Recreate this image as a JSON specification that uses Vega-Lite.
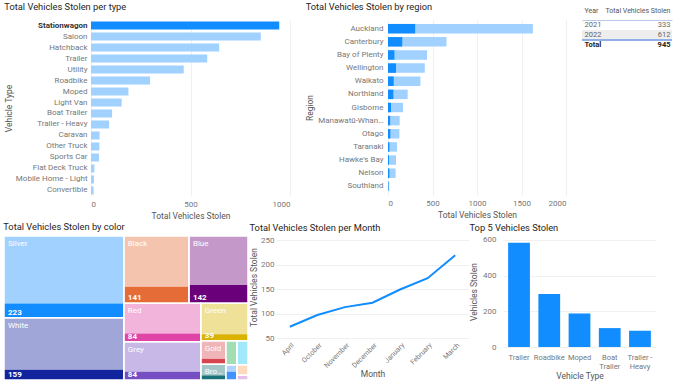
{
  "$schema": "https://vega.github.io/schema/vega-lite/v6.json",
  "background": "white",
  "padding": {"left": 3, "top": 2, "right": 0, "bottom": 0},
  "autosize": {"type": "pad"},
  "config": {
    "view": {"stroke": null},
    "font": "Roboto",
    "axis": {"labelColor": "#777777", "labelFontSize": 8, "titleColor": "#555555", "titleFontSize": 8.5, "titleFontWeight": "normal", "domain": false, "ticks": false, "gridColor": "#f0f0f0", "grid": false},
    "title": {"fontSize": 9.3, "fontWeight": "normal", "color": "#252423", "anchor": "start", "frame": "bounds", "offset": 8}
  },
  "datasets": {
    "types": [
      {"type": "Stationwagon", "count": 946},
      {"type": "Saloon", "count": 853},
      {"type": "Hatchback", "count": 644},
      {"type": "Trailer", "count": 584},
      {"type": "Utility", "count": 466},
      {"type": "Roadbike", "count": 297},
      {"type": "Moped", "count": 188},
      {"type": "Light Van", "count": 154},
      {"type": "Boat Trailer", "count": 106},
      {"type": "Trailer - Heavy", "count": 91},
      {"type": "Caravan", "count": 43},
      {"type": "Other Truck", "count": 42},
      {"type": "Sports Car", "count": 40},
      {"type": "Flat Deck Truck", "count": 17},
      {"type": "Mobile Home - Light", "count": 15},
      {"type": "Convertible", "count": 13}
    ],
    "regions": [
      {"region": "Auckland", "total": 1628, "stationwagon": 305},
      {"region": "Canterbury", "total": 657, "stationwagon": 160},
      {"region": "Bay of Plenty", "total": 439, "stationwagon": 72},
      {"region": "Wellington", "total": 413, "stationwagon": 90},
      {"region": "Waikato", "total": 364, "stationwagon": 64},
      {"region": "Northland", "total": 221, "stationwagon": 60},
      {"region": "Gisborne", "total": 169, "stationwagon": 34},
      {"region": "Manawatū-Whanganui", "total": 131, "stationwagon": 24},
      {"region": "Otago", "total": 128, "stationwagon": 26},
      {"region": "Taranaki", "total": 101, "stationwagon": 15},
      {"region": "Hawke's Bay", "total": 90, "stationwagon": 11},
      {"region": "Nelson", "total": 86, "stationwagon": 15},
      {"region": "Southland", "total": 15, "stationwagon": 5}
    ],
    "years": [
      {"Year": "2021", "Total": 333},
      {"Year": "2022", "Total": 612},
      {"Year": "Total", "Total": 945}
    ],
    "colors": [
      {"color": "Silver", "highlight": "Other", "count": 1054, "g1": 1, "g2": 1, "g3": 1, "g4": 1, "g5": 1},
      {"color": "Silver", "highlight": "Stationwagon", "count": 223, "g1": 1, "g2": 1, "g3": 1, "g4": 1, "g5": 1},
      {"color": "White", "highlight": "Other", "count": 816, "g1": 1, "g2": 1, "g3": 1, "g4": 1, "g5": 1},
      {"color": "White", "highlight": "Stationwagon", "count": 159, "g1": 1, "g2": 1, "g3": 1, "g4": 1, "g5": 1},
      {"color": "Black", "highlight": "Other", "count": 431, "g1": 2, "g2": 1, "g3": 1, "g4": 1, "g5": 1},
      {"color": "Black", "highlight": "Stationwagon", "count": 141, "g1": 2, "g2": 1, "g3": 1, "g4": 1, "g5": 1},
      {"color": "Blue", "highlight": "Other", "count": 377, "g1": 2, "g2": 1, "g3": 2, "g4": 1, "g5": 1},
      {"color": "Blue", "highlight": "Stationwagon", "count": 142, "g1": 2, "g2": 1, "g3": 2, "g4": 1, "g5": 1},
      {"color": "Red", "highlight": "Other", "count": 302, "g1": 2, "g2": 2, "g3": 1, "g4": 1, "g5": 1},
      {"color": "Red", "highlight": "Stationwagon", "count": 84, "g1": 2, "g2": 2, "g3": 1, "g4": 1, "g5": 1},
      {"color": "Grey", "highlight": "Other", "count": 300, "g1": 2, "g2": 2, "g3": 1, "g4": 1, "g5": 1},
      {"color": "Grey", "highlight": "Stationwagon", "count": 84, "g1": 2, "g2": 2, "g3": 1, "g4": 1, "g5": 1},
      {"color": "Green", "highlight": "Other", "count": 191, "g1": 2, "g2": 2, "g3": 2, "g4": 1, "g5": 1},
      {"color": "Green", "highlight": "Stationwagon", "count": 39, "g1": 2, "g2": 2, "g3": 2, "g4": 1, "g5": 1},
      {"color": "Gold", "highlight": "Other", "count": 59, "g1": 2, "g2": 2, "g3": 2, "g4": 2, "g5": 1},
      {"color": "Gold", "highlight": "Stationwagon", "count": 18, "g1": 2, "g2": 2, "g3": 2, "g4": 2, "g5": 1},
      {"color": "Brown", "highlight": "Other", "count": 36, "g1": 2, "g2": 2, "g3": 2, "g4": 2, "g5": 1},
      {"color": "Brown", "highlight": "Stationwagon", "count": 15, "g1": 2, "g2": 2, "g3": 2, "g4": 2, "g5": 1},
      {"color": "Yellow", "highlight": "Other", "count": 35, "g1": 2, "g2": 2, "g3": 2, "g4": 2, "g5": 2},
      {"color": "Purple", "highlight": "Other", "count": 10, "g1": 2, "g2": 2, "g3": 2, "g4": 2, "g5": 2},
      {"color": "Purple", "highlight": "Stationwagon", "count": 12, "g1": 2, "g2": 2, "g3": 2, "g4": 2, "g5": 2},
      {"color": "Orange", "highlight": "Other", "count": 35, "g1": 2, "g2": 2, "g3": 2, "g4": 2, "g5": 3},
      {"color": "Cream", "highlight": "Other", "count": 15, "g1": 2, "g2": 2, "g3": 2, "g4": 2, "g5": 3},
      {"color": "Pink", "highlight": "Other", "count": 7, "g1": 2, "g2": 2, "g3": 2, "g4": 2, "g5": 3}
    ],
    "months": [
      {"month": "April", "count": 73},
      {"month": "October", "count": 97},
      {"month": "November", "count": 113},
      {"month": "December", "count": 122},
      {"month": "January", "count": 149},
      {"month": "February", "count": 172},
      {"month": "March", "count": 219}
    ]
  },
  "concat": [
    {
      "hconcat": [
        {
          "hconcat": [
            {
              "width": 1,
              "height": 1,
              "data": {"values": []},
              "mark": {"type": "point", "opacity": 0},
              "encoding": {}
            },
            {
              "hconcat": [
                {
                  "title": {"text": "Total Vehicles Stolen per type"},
                  "width": 199,
                  "height": 176,
                  "data": {"name": "types"},
                  "mark": {"type": "bar"},
                  "encoding": {
                    "y": {"field": "type", "type": "nominal", "sort": "-x", "title": "Vehicle Type",
                      "scale": {"paddingInner": 0.27, "paddingOuter": 0.14},
                      "axis": {"labelPadding": 4, "titlePadding": 2, "labelLimit": 120,
                        "labelFontWeight": {"condition": {"test": "datum.value === 'Stationwagon'", "value": "bold"}, "value": "normal"},
                        "labelColor": {"condition": {"test": "datum.value === 'Stationwagon'", "value": "#333333"}, "value": "#777777"}}},
                    "x": {"field": "count", "type": "quantitative", "title": "Total Vehicles Stolen",
                      "scale": {"domain": [0, 1000]},
                      "axis": {"values": [0, 500, 1000], "format": "d", "grid": true, "labelPadding": 4, "titlePadding": 3}},
                    "color": {"condition": {"test": "datum.type === 'Stationwagon'", "value": "#118DFF"}, "value": "#A0D1FF"}
                  }
                },
                {
                  "title": {"text": "Total Vehicles Stolen by region"},
                  "width": 178,
                  "height": 175,
                  "data": {"name": "regions"},
                  "encoding": {
                    "y": {"field": "region", "type": "nominal", "sort": {"field": "total", "order": "descending"}, "title": "Region",
                      "scale": {"paddingInner": 0.28, "paddingOuter": 0.3},
                      "axis": {"labelPadding": 5, "titlePadding": 3, "labelLimit": 68}}
                  },
                  "layer": [
                    {
                      "mark": {"type": "bar", "color": "#A0D1FF"},
                      "encoding": {
                        "x": {"field": "total", "type": "quantitative", "title": "Total Vehicles Stolen",
                          "scale": {"domain": [0, 2000]},
                          "axis": {"values": [0, 500, 1000, 1500, 2000], "format": "d", "grid": true, "labelPadding": 4, "titlePadding": 3}}
                      }
                    },
                    {
                      "mark": {"type": "bar", "color": "#118DFF"},
                      "encoding": {
                        "x": {"field": "stationwagon", "type": "quantitative"}
                      }
                    }
                  ]
                }
              ],
              "spacing": 15
            }
          ],
          "spacing": -1
        },
        {
          "width": 90,
          "height": 30,
          "data": {"name": "years"},
          "transform": [{"fold": ["Year", "Total"], "as": ["column", "val"]}],
          "encoding": {
            "x": {"field": "column", "type": "nominal", "scale": {"domain": ["Year", "Total"], "paddingInner": 0, "paddingOuter": 0},
              "axis": {"orient": "top", "title": null, "labelAngle": 0, "labelPadding": 7, "labelColor": "#555555", "labelFontSize": 7,
                "labelExpr": "datum.label == 'Total' ? 'Total Vehicles Stolen' : datum.label",
                "labelAlign": {"condition": {"test": "datum.value == 'Year'", "value": "left"}, "value": "right"},
                "labelOffset": {"condition": {"test": "datum.value == 'Year'", "value": -20}, "value": 21},
                "domain": true, "domainColor": "#b8c8e8", "domainWidth": 1}},
            "y": {"field": "Year", "type": "nominal", "scale": {"domain": ["2021", "2022", "Total"], "paddingInner": 0, "paddingOuter": 0}, "axis": null}
          },
          "layer": [
            {
              "transform": [{"filter": "datum.Year == '2022'"}],
              "mark": {"type": "rect", "color": "#eeeeee"}
            },
            {
              "mark": {"type": "rule", "color": "#8fb0e6", "strokeWidth": 1},
              "encoding": {"x": null, "y": {"datum": "Total", "type": "nominal", "bandPosition": 0}}
            },
            {
              "transform": [{"filter": "datum.column == 'Year' && datum.Year != 'Total'"}],
              "mark": {"type": "text", "align": "left", "dx": -20, "fontSize": 7.5, "color": "#666666"},
              "encoding": {"text": {"field": "val"}}
            },
            {
              "transform": [{"filter": "datum.column == 'Total' && datum.Year != 'Total'"}],
              "mark": {"type": "text", "align": "right", "dx": 21, "fontSize": 7.5, "color": "#666666"},
              "encoding": {"text": {"field": "val"}}
            },
            {
              "transform": [{"filter": "datum.column == 'Year' && datum.Year == 'Total'"}],
              "mark": {"type": "text", "align": "left", "dx": -20, "fontSize": 7.5, "fontWeight": "bold", "color": "#252423"},
              "encoding": {"text": {"field": "val"}}
            },
            {
              "transform": [{"filter": "datum.column == 'Total' && datum.Year == 'Total'"}],
              "mark": {"type": "text", "align": "right", "dx": 21, "fontSize": 7.5, "fontWeight": "bold", "color": "#252423"},
              "encoding": {"text": {"field": "val"}}
            }
          ]
        }
      ],
      "spacing": 15
    },
    {
      "hconcat": [
        {
          "title": {"text": "Total Vehicles Stolen by color", "offset": 3},
          "width": 244,
          "height": 144,
          "data": {"name": "colors"},
          "transform": [
            {"joinaggregate": [{"op": "sum", "field": "count", "as": "T"}]},
            {"joinaggregate": [{"op": "sum", "field": "count", "as": "S1"}], "groupby": ["g1"]},
            {"joinaggregate": [{"op": "sum", "field": "count", "as": "S2"}], "groupby": ["g1", "g2"]},
            {"joinaggregate": [{"op": "sum", "field": "count", "as": "S3"}], "groupby": ["g1", "g2", "g3"]},
            {"joinaggregate": [{"op": "sum", "field": "count", "as": "S4"}], "groupby": ["g1", "g2", "g3", "g4"]},
            {"joinaggregate": [{"op": "sum", "field": "count", "as": "S5"}], "groupby": ["g1", "g2", "g3", "g4", "g5"]},
            {"joinaggregate": [{"op": "sum", "field": "count", "as": "tileSum"}], "groupby": ["color"]},
            {"window": [{"op": "sum", "field": "count", "as": "E1"}], "sort": [{"field": "g1"}], "frame": [null, 0], "ignorePeers": false},
            {"window": [{"op": "sum", "field": "count", "as": "E2"}], "groupby": ["g1"], "sort": [{"field": "g2"}], "frame": [null, 0], "ignorePeers": false},
            {"window": [{"op": "sum", "field": "count", "as": "E3"}], "groupby": ["g1", "g2"], "sort": [{"field": "g3"}], "frame": [null, 0], "ignorePeers": false},
            {"window": [{"op": "sum", "field": "count", "as": "E4"}], "groupby": ["g1", "g2", "g3"], "sort": [{"field": "g4"}], "frame": [null, 0], "ignorePeers": false},
            {"window": [{"op": "sum", "field": "count", "as": "E5"}], "groupby": ["g1", "g2", "g3", "g4"], "sort": [{"field": "g5"}], "frame": [null, 0], "ignorePeers": false},
            {"window": [{"op": "sum", "field": "count", "as": "E6"}], "groupby": ["g1", "g2", "g3", "g4", "g5"], "sort": [{"field": "tileSum", "order": "descending"}, {"field": "highlight", "order": "ascending"}], "frame": [null, 0], "ignorePeers": true},
            {"calculate": "(datum.E1 - datum.S1) / datum.T", "as": "xa1"},
            {"calculate": "datum.E1 / datum.T", "as": "xb1"},
            {"calculate": "(datum.E2 - datum.S2) / datum.S1", "as": "ya2"},
            {"calculate": "datum.E2 / datum.S1", "as": "yb2"},
            {"calculate": "datum.xa1 + (datum.xb1 - datum.xa1) * (datum.E3 - datum.S3) / datum.S2", "as": "xa3"},
            {"calculate": "datum.xa1 + (datum.xb1 - datum.xa1) * datum.E3 / datum.S2", "as": "xb3"},
            {"calculate": "datum.ya2 + (datum.yb2 - datum.ya2) * (datum.E4 - datum.S4) / datum.S3", "as": "ya4"},
            {"calculate": "datum.ya2 + (datum.yb2 - datum.ya2) * datum.E4 / datum.S3", "as": "yb4"},
            {"calculate": "datum.xa3 + (datum.xb3 - datum.xa3) * (datum.E5 - datum.S5) / datum.S4", "as": "xa5"},
            {"calculate": "datum.xa3 + (datum.xb3 - datum.xa3) * datum.E5 / datum.S4", "as": "xb5"},
            {"calculate": "datum.ya4 + (datum.yb4 - datum.ya4) * (datum.E6 - datum.count) / datum.S5", "as": "ya6"},
            {"calculate": "datum.ya4 + (datum.yb4 - datum.ya4) * datum.E6 / datum.S5", "as": "yb6"}
          ],
          "layer": [
            {
              "mark": {"type": "rect"},
              "encoding": {
                "x": {"field": "xa5", "type": "quantitative", "scale": {"domain": [0, 1], "nice": false, "zero": false}, "axis": null},
                "x2": {"field": "xb5"},
                "y": {"field": "ya6", "type": "quantitative", "scale": {"domain": [0, 1], "nice": false, "zero": false, "reverse": true}, "axis": null},
                "y2": {"field": "yb6"},
                "color": {"field": "color", "type": "nominal", "legend": null,
                  "scale": {"domain": ["Silver", "White", "Black", "Blue", "Red", "Grey", "Green", "Gold", "Brown", "Yellow", "Orange", "Purple", "Cream", "Pink"],
                    "range": ["#118DFF", "#12239E", "#E66C37", "#6B007B", "#E044A7", "#744EC2", "#D9B300", "#D64550", "#197278", "#1AAB40", "#15C6F4", "#4092FF", "#FFA058", "#BE5DC9"]}},
                "fillOpacity": {"condition": {"test": "datum.highlight == 'Other'", "value": 0.4}, "value": 1}
              }
            },
            {
              "transform": [{"aggregate": [{"op": "min", "field": "ya6", "as": "top"}, {"op": "max", "field": "yb6", "as": "bottom"}], "groupby": ["color", "xa5", "xb5"]}],
              "mark": {"type": "rect", "fill": null, "stroke": "white", "strokeWidth": 1.5},
              "encoding": {
                "x": {"field": "xa5", "type": "quantitative", "scale": {"domain": [0, 1], "nice": false, "zero": false}, "axis": null},
                "x2": {"field": "xb5"},
                "y": {"field": "top", "type": "quantitative", "scale": {"domain": [0, 1], "nice": false, "zero": false, "reverse": true}, "axis": null},
                "y2": {"field": "bottom"}
              }
            },
            {
              "transform": [{"filter": "datum.highlight == 'Other' && datum.tileSum >= 100"}],
              "mark": {"type": "text", "align": "left", "baseline": "top", "dx": 4, "dy": 4, "fontSize": 8, "color": "white"},
              "encoding": {
                "x": {"field": "xa5", "type": "quantitative", "scale": {"domain": [0, 1], "nice": false, "zero": false}, "axis": null},
                "y": {"field": "ya6", "type": "quantitative", "scale": {"domain": [0, 1], "nice": false, "zero": false, "reverse": true}, "axis": null},
                "text": {"field": "color"}
              }
            },
            {
              "transform": [{"filter": "datum.highlight == 'Other' && datum.tileSum >= 45 && datum.tileSum < 100"}],
              "mark": {"type": "text", "align": "left", "baseline": "top", "dx": 4, "dy": 4, "fontSize": 8, "color": "white", "limit": 18},
              "encoding": {
                "x": {"field": "xa5", "type": "quantitative", "scale": {"domain": [0, 1], "nice": false, "zero": false}, "axis": null},
                "y": {"field": "ya6", "type": "quantitative", "scale": {"domain": [0, 1], "nice": false, "zero": false, "reverse": true}, "axis": null},
                "text": {"field": "color"}
              }
            },
            {
              "transform": [{"filter": "datum.highlight == 'Stationwagon' && datum.tileSum >= 200"}],
              "mark": {"type": "text", "align": "left", "baseline": "bottom", "dx": 4, "dy": -1, "fontSize": 8, "fontWeight": "bold", "color": "white"},
              "encoding": {
                "x": {"field": "xa5", "type": "quantitative", "scale": {"domain": [0, 1], "nice": false, "zero": false}, "axis": null},
                "y": {"field": "yb6", "type": "quantitative", "scale": {"domain": [0, 1], "nice": false, "zero": false, "reverse": true}, "axis": null},
                "text": {"field": "count"}
              }
            }
          ]
        },
        {
          "title": {"text": "Total Vehicles Stolen per Month", "offset": 3},
          "width": 193,
          "height": 102,
          "data": {"name": "months"},
          "mark": {"type": "line", "color": "#118DFF", "strokeWidth": 2},
          "encoding": {
            "x": {"field": "month", "type": "ordinal", "sort": null, "title": "Month", "scale": {"padding": 0.5},
              "axis": {"labelAngle": -45, "labelFontSize": 7, "labelPadding": 3, "titlePadding": 1}},
            "y": {"field": "count", "type": "quantitative", "title": "Total Vehicles Stolen", "scale": {"domain": [50, 258.2], "nice": false, "zero": false},
              "axis": {"values": [50, 100, 150, 200, 250], "format": "d", "labelAlign": "right", "labelBaseline": "middle", "grid": true, "labelPadding": 2, "titlePadding": 2}}
          }
        },
        {
          "title": {"text": "Top 5 Vehicles Stolen", "offset": 3},
          "width": 153,
          "height": 111,
          "data": {"name": "types"},
          "transform": [{"filter": {"field": "type", "oneOf": ["Trailer", "Roadbike", "Moped", "Boat Trailer", "Trailer - Heavy"]}}],
          "mark": {"type": "bar", "color": "#118DFF"},
          "encoding": {
            "x": {"field": "type", "type": "nominal", "sort": "-y", "title": "Vehicle Type", "scale": {"paddingInner": 0.28, "paddingOuter": 0.17},
              "axis": {"labelAngle": 0, "labelFontSize": 7.5, "labelPadding": 6, "titlePadding": 1,
                "labelExpr": "datum.label == 'Boat Trailer' ? ['Boat', 'Trailer'] : datum.label == 'Trailer - Heavy' ? ['Trailer -', 'Heavy'] : datum.label"}},
            "y": {"field": "count", "type": "quantitative", "title": "Vehicles Stolen", "scale": {"domain": [0, 622.4], "nice": false},
              "axis": {"values": [0, 200, 400, 600], "format": "d", "labelAlign": "right", "labelBaseline": "middle", "grid": true, "labelPadding": 7, "titlePadding": 4}}
          }
        }
      ],
      "spacing": 0
    }
  ],
  "columns": 1,
  "align": "none",
  "spacing": 2
}
